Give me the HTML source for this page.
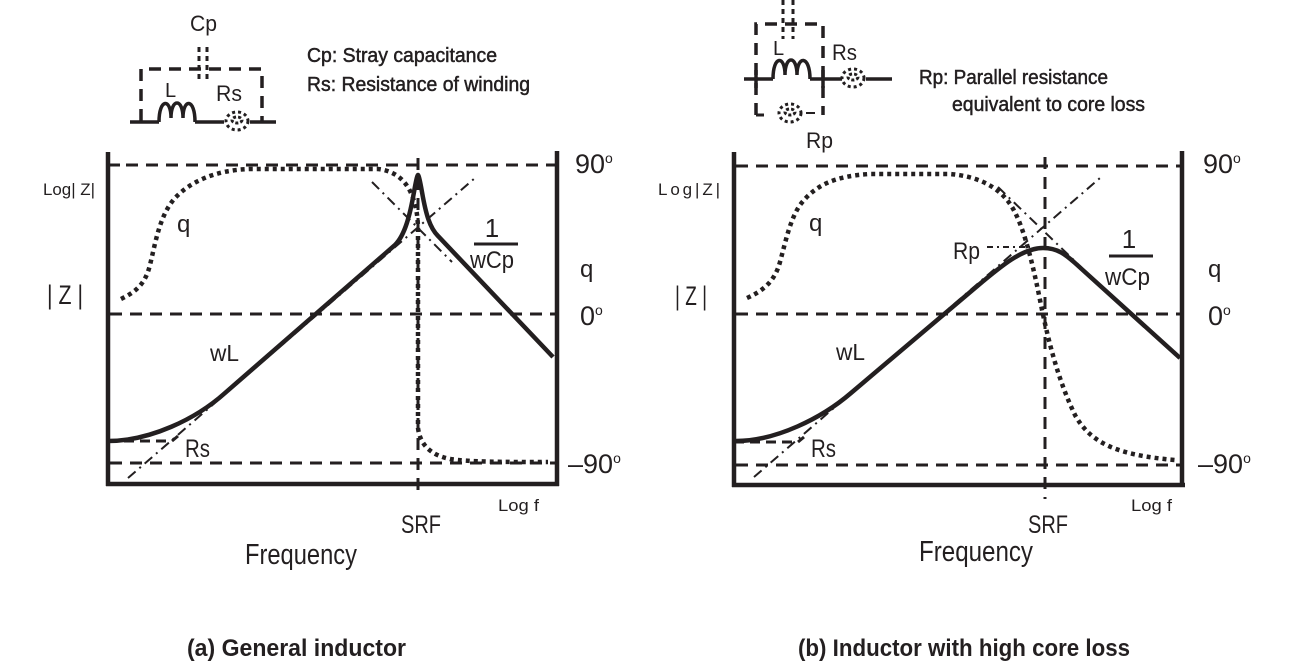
<!DOCTYPE html>
<html><head><meta charset="utf-8"><style>
html,body{margin:0;padding:0;background:#fff;}
svg{display:block;}
text{font-family:"Liberation Sans",sans-serif;fill:#231f20;}
</style></head><body>
<svg width="1310" height="670" viewBox="0 0 1310 670" xmlns="http://www.w3.org/2000/svg">
<g stroke="#231f20" fill="none">
<!-- ===== Circuit (a) ===== -->
<line x1="199" y1="47" x2="199" y2="79" stroke-width="3" stroke-dasharray="5 4"/>
<line x1="207" y1="47" x2="207" y2="79" stroke-width="3" stroke-dasharray="5 4"/>
<polyline points="141,121 141,69 262,69 262,121" stroke-width="3.5" stroke-dasharray="12 8"/>
<line x1="130" y1="122" x2="159" y2="122" stroke-width="3.5"/>
<path d="M159,122 C159,98 171,98 171,118 C171,98 183,98 183,118 C183,98 195,98 195,122" stroke-width="3.5"/>
<line x1="195" y1="122" x2="224" y2="122" stroke-width="3.5"/>
<ellipse cx="237" cy="121" rx="11" ry="9" stroke-width="3" stroke-dasharray="3 3"/>
<ellipse cx="237" cy="120" rx="5" ry="3" stroke-width="3" stroke-dasharray="3 2"/>
<line x1="250" y1="122" x2="276" y2="122" stroke-width="3.5"/>

<!-- ===== Circuit (b) ===== -->
<line x1="783" y1="0" x2="783" y2="39" stroke-width="3" stroke-dasharray="5 4"/>
<line x1="793" y1="0" x2="793" y2="39" stroke-width="3" stroke-dasharray="5 4"/>
<polyline points="756,115 756,24 823,24 823,115" stroke-width="3.5" stroke-dasharray="12 8"/>
<line x1="756" y1="115" x2="764" y2="115" stroke-width="3"/>
<line x1="806" y1="113" x2="815" y2="113" stroke-width="2"/>
<line x1="744" y1="79" x2="773" y2="79" stroke-width="3.5"/>
<path d="M773,79 C773,55 785,55 785,75 C785,55 797,55 797,75 C797,55 810,55 810,79" stroke-width="3.5"/>
<line x1="810" y1="79" x2="842" y2="79" stroke-width="3.5"/>
<line x1="756" y1="70" x2="756" y2="88" stroke-width="3.5"/>
<line x1="823" y1="70" x2="823" y2="88" stroke-width="3.5"/>
<ellipse cx="853" cy="78" rx="11" ry="9" stroke-width="3" stroke-dasharray="3 3"/>
<ellipse cx="853" cy="77" rx="5" ry="3" stroke-width="3" stroke-dasharray="3 2"/>
<line x1="866" y1="79" x2="892" y2="79" stroke-width="3.5"/>
<ellipse cx="790" cy="113" rx="11" ry="9" stroke-width="3" stroke-dasharray="3 3"/>
<ellipse cx="790" cy="112" rx="5" ry="3" stroke-width="3" stroke-dasharray="3 2"/>

<!-- ===== Chart (a) ===== -->
<line x1="126" y1="165" x2="555" y2="165" stroke-width="3" stroke-dasharray="12 8"/>
<line x1="110" y1="314" x2="555" y2="314" stroke-width="3" stroke-dasharray="12 8"/>
<line x1="110" y1="463" x2="555" y2="463" stroke-width="3" stroke-dasharray="12 8"/>
<line x1="418" y1="158" x2="418" y2="498" stroke-width="3" stroke-dasharray="12 8"/>
<line x1="110" y1="165" x2="120" y2="165" stroke-width="3"/>
<!-- asymptotes -->
<line x1="128" y1="478" x2="475" y2="178" stroke-width="2" stroke-dasharray="10 5 2 5"/>
<line x1="372" y1="182" x2="452" y2="262" stroke-width="2" stroke-dasharray="10 5 2 5"/>
<path d="M108,441 L172,441 L178,436" stroke-width="3" stroke-dasharray="10 6"/>
<!-- q -->
<path d="M121,299 C135,292 145,285 150,265 C156,240 160,215 175,198 C190,182 215,170 250,169 L378,169 C395,171 405,180 411,193 C416,205 418,215 418,232 L418,428 C420,444 430,455 450,459 C470,462 500,462 548,462" stroke-width="4.5" stroke-dasharray="4 4"/>
<!-- |Z| -->
<path d="M108,441 C150,441 196,419 225,393 L395,245 C405,235 410,215 414,192 Q417,175 418,175 Q419,175 422,192 C426,215 430,228 438,236 L553,357" stroke-width="4.5"/>
<!-- axes -->
<line x1="108" y1="152" x2="108" y2="486" stroke-width="4.5"/>
<line x1="106" y1="484" x2="559" y2="484" stroke-width="4.5"/>
<line x1="557" y1="151" x2="557" y2="486" stroke-width="4.5"/>

<!-- ===== Chart (b) ===== -->
<line x1="736" y1="166" x2="1180" y2="166" stroke-width="3" stroke-dasharray="12 8"/>
<line x1="736" y1="314" x2="1180" y2="314" stroke-width="3" stroke-dasharray="12 8"/>
<line x1="736" y1="465" x2="1180" y2="465" stroke-width="3" stroke-dasharray="12 8"/>
<line x1="1045" y1="157" x2="1045" y2="499" stroke-width="3" stroke-dasharray="12 8"/>
<!-- asymptotes -->
<line x1="754" y1="477" x2="1100" y2="178" stroke-width="2" stroke-dasharray="10 5 2 5"/>
<line x1="998" y1="187" x2="1082" y2="268" stroke-width="2" stroke-dasharray="10 5 2 5"/>
<line x1="987" y1="247" x2="1030" y2="247" stroke-width="2" stroke-dasharray="6 4 2 4"/>
<path d="M734,442 L798,442 L804,437" stroke-width="3" stroke-dasharray="10 6"/>
<!-- q -->
<path d="M747,298 C765,290 775,280 780,262 C786,240 790,220 800,205 C815,185 835,176 870,174 L950,174 C975,176 995,185 1007,200 C1020,215 1030,250 1040,300 C1048,340 1058,380 1075,415 C1090,442 1115,455 1175,460" stroke-width="4.5" stroke-dasharray="4 4"/>
<!-- |Z| -->
<path d="M736,441 C776,441 822,418 851,393 L975,288 C1000,267 1022,248 1043,248 C1058,248 1066,255 1075,263 L1180,358" stroke-width="4.5"/>
<!-- axes -->
<line x1="734" y1="152" x2="734" y2="487" stroke-width="4.5"/>
<line x1="732" y1="485" x2="1185" y2="485" stroke-width="4.5"/>
<line x1="1182" y1="151" x2="1182" y2="487" stroke-width="4.5"/>
</g>

<!-- fraction bars -->
<rect x="474" y="242.5" width="44" height="3" fill="#231f20"/>
<rect x="1109" y="254.5" width="44" height="3" fill="#231f20"/>

<!-- ===== Text: circuit (a) ===== -->
<text x="190" y="31" font-size="22" textLength="27" lengthAdjust="spacingAndGlyphs">Cp</text>
<text x="165" y="97" font-size="20">L</text>
<text x="216" y="101" font-size="22" textLength="26" lengthAdjust="spacingAndGlyphs">Rs</text>
<text x="307" y="62" font-size="20" textLength="190" lengthAdjust="spacingAndGlyphs" stroke="#231f20" stroke-width="0.5">Cp: Stray capacitance</text>
<text x="307" y="91" font-size="20" textLength="223" lengthAdjust="spacingAndGlyphs" stroke="#231f20" stroke-width="0.5">Rs: Resistance of winding</text>

<!-- ===== Text: circuit (b) ===== -->
<text x="773" y="55" font-size="20">L</text>
<text x="832" y="60" font-size="22" textLength="25" lengthAdjust="spacingAndGlyphs">Rs</text>
<text x="806" y="148" font-size="22" textLength="27" lengthAdjust="spacingAndGlyphs">Rp</text>
<text x="919" y="84" font-size="20" textLength="189" lengthAdjust="spacingAndGlyphs" stroke="#231f20" stroke-width="0.5">Rp: Parallel resistance</text>
<text x="952" y="111" font-size="20" textLength="193" lengthAdjust="spacingAndGlyphs" stroke="#231f20" stroke-width="0.5">equivalent to core loss</text>

<!-- ===== Text: chart (a) ===== -->
<text x="43" y="195" font-size="17" textLength="52" lengthAdjust="spacingAndGlyphs">Log| Z|</text>
<text x="47" y="304" font-size="27" textLength="36" lengthAdjust="spacingAndGlyphs">| Z |</text>
<text x="177" y="232" font-size="24">q</text>
<text x="210" y="361" font-size="23" textLength="29" lengthAdjust="spacingAndGlyphs">wL</text>
<text x="185" y="457" font-size="25" textLength="25" lengthAdjust="spacingAndGlyphs">Rs</text>
<text x="492" y="237" font-size="26" text-anchor="middle">1</text>
<text x="470" y="268" font-size="24" textLength="44" lengthAdjust="spacingAndGlyphs">wCp</text>
<text x="575" y="173" font-size="27">90<tspan font-size="14" dy="-10">o</tspan></text>
<text x="580" y="277" font-size="24">q</text>
<text x="580" y="325" font-size="27">0<tspan font-size="14" dy="-10">o</tspan></text>
<text x="568" y="473" font-size="27">–90<tspan font-size="14" dy="-10">o</tspan></text>
<text x="498" y="511" font-size="17" textLength="41" lengthAdjust="spacingAndGlyphs">Log  f</text>
<text x="401" y="533" font-size="25" textLength="40" lengthAdjust="spacingAndGlyphs">SRF</text>
<text x="245" y="564" font-size="29" textLength="112" lengthAdjust="spacingAndGlyphs">Frequency</text>

<!-- ===== Text: chart (b) ===== -->
<text x="658" y="195" font-size="17" textLength="62" lengthAdjust="spacing">Log|Z|</text>
<text x="675" y="305" font-size="27" textLength="32" lengthAdjust="spacingAndGlyphs">| Z |</text>
<text x="809" y="231" font-size="24">q</text>
<text x="836" y="360" font-size="23" textLength="29" lengthAdjust="spacingAndGlyphs">wL</text>
<text x="811" y="457" font-size="25" textLength="25" lengthAdjust="spacingAndGlyphs">Rs</text>
<text x="953" y="259" font-size="24" textLength="27" lengthAdjust="spacingAndGlyphs">Rp</text>
<text x="1129" y="248" font-size="26" text-anchor="middle">1</text>
<text x="1105" y="285" font-size="24" textLength="45" lengthAdjust="spacingAndGlyphs">wCp</text>
<text x="1203" y="173" font-size="27">90<tspan font-size="14" dy="-10">o</tspan></text>
<text x="1208" y="277" font-size="24">q</text>
<text x="1208" y="325" font-size="27">0<tspan font-size="14" dy="-10">o</tspan></text>
<text x="1198" y="473" font-size="27">–90<tspan font-size="14" dy="-10">o</tspan></text>
<text x="1131" y="511" font-size="17" textLength="41" lengthAdjust="spacingAndGlyphs">Log f</text>
<text x="1028" y="533" font-size="25" textLength="40" lengthAdjust="spacingAndGlyphs">SRF</text>
<text x="919" y="561" font-size="29" textLength="114" lengthAdjust="spacingAndGlyphs">Frequency</text>

<!-- ===== Captions ===== -->
<text x="187" y="656" font-size="24" font-weight="bold" textLength="219" lengthAdjust="spacingAndGlyphs">(a) General inductor</text>
<text x="798" y="656" font-size="24" font-weight="bold" textLength="332" lengthAdjust="spacingAndGlyphs">(b) Inductor with high core loss</text>
</svg>
</body></html>
